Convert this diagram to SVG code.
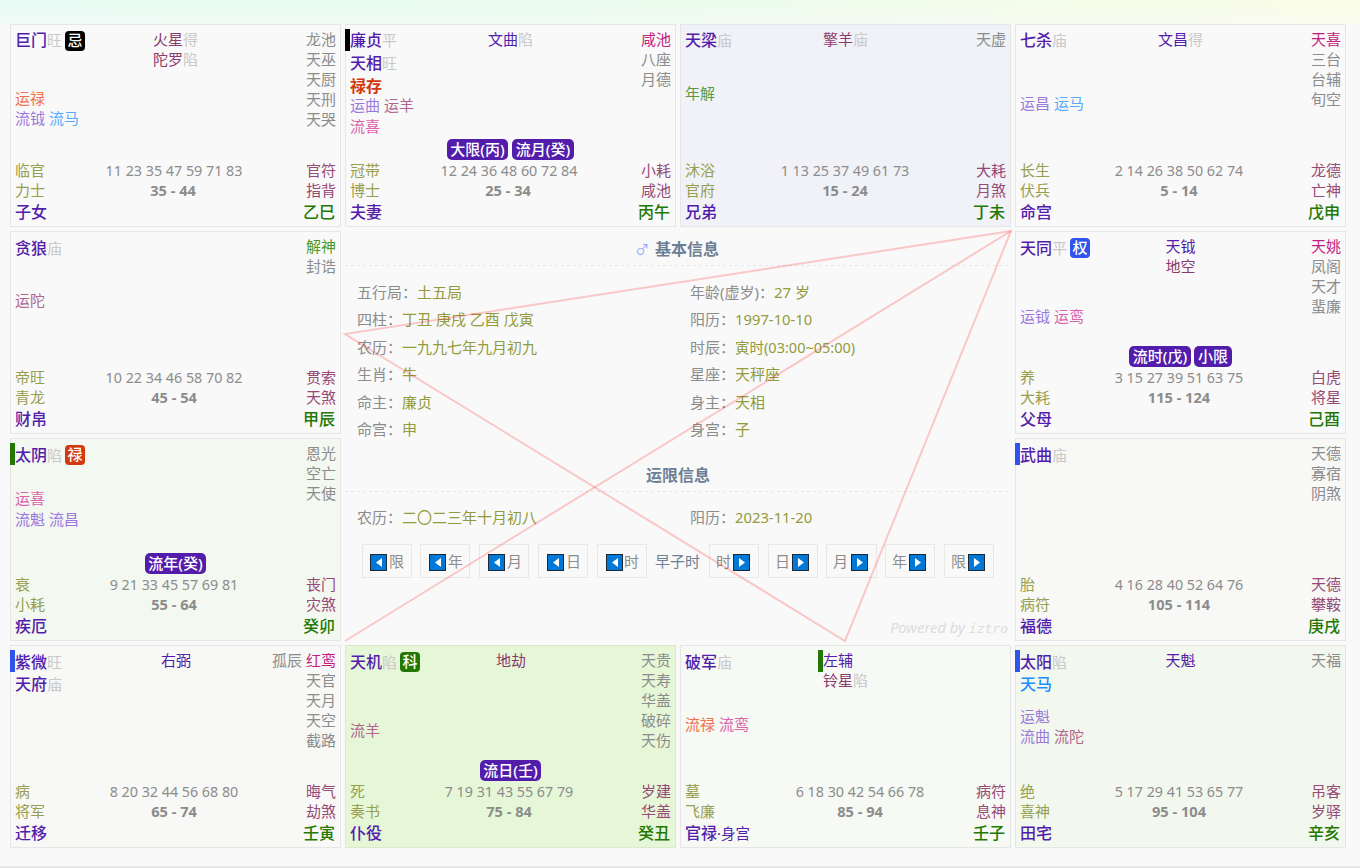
<svg xmlns="http://www.w3.org/2000/svg" width="1360" height="868" viewBox="0 0 1360 868">
<style>
text{font-family:"Noto Sans","Noto Sans CJK SC",sans-serif;font-size:15px;fill:#8c8c8c}
.cell{stroke:#e6e6e6;stroke-width:1;fill:#f9f9f9}
.s{font-size:16px;font-weight:500;fill:#531dab}
.n{fill:#c9c9c9;font-size:15px;font-weight:400}
.v{fill:#8a3a6c}
.p{fill:#531dab}
.mz{fill:#c41d7f}
.h{fill:#979f4f}
.r{fill:#964a76}
.a{font-size:14.3px;text-anchor:middle;fill:#8c8c8c}
.d{font-size:14.6px;font-weight:700;text-anchor:middle;fill:#8c8c8c}
.z{font-size:16px;font-weight:500;fill:#531dab}
.gz{font-size:16px;font-weight:500;fill:#237804;text-anchor:end}
.e{text-anchor:end}
.yl{fill:#f0714f}.yp{fill:#9b79dc}.yb{fill:#55aaff}.yr{fill:#b0668f}.ym{fill:#dc62ac}
.tag{fill:#531dab}
.tt{fill:#fff;font-size:15px;font-weight:500;text-anchor:middle}
.bd{fill:#fff;font-size:15px;font-weight:500;text-anchor:middle}
.ttl{font-size:16px;font-weight:700;fill:#6d7f94;text-anchor:middle}
.val{fill:#939b3b}
.btn{fill:#f9f9f9;stroke:#e8e8e8}
.ico{fill:#0078d7;stroke:#1c2a38;stroke-width:1}
.cn{fill:none;stroke:#ff0000;stroke-opacity:.2;stroke-width:2}
</style>
<defs>
<linearGradient id="tg" x1="0" x2="1" y1="0" y2="0"><stop offset="0" stop-color="#e6fbf3"/><stop offset=".5" stop-color="#eafcec"/><stop offset="1" stop-color="#fbfde6"/></linearGradient>
<linearGradient id="fade" x1="0" x2="0" y1="0" y2="1"><stop offset="0" stop-color="#f9f9f9" stop-opacity=".1"/><stop offset="1" stop-color="#f9f9f9" stop-opacity=".5"/></linearGradient>
</defs>
<rect width="1360" height="868" fill="#f9f9f9"/>
<rect width="1360" height="24" fill="url(#tg)"/>
<rect y="5" width="1360" height="19" fill="url(#fade)"/>
<rect y="866" width="1360" height="2" fill="#e6e6e6"/>

<g id="cell-zinv">
<rect class="cell" x="10.5" y="24.5" width="330" height="202"/>
<text x="15" y="46" class="s">巨门<tspan class="n">旺</tspan></text>
<rect x="65" y="31" width="20" height="20" rx="4" fill="#000"/><text x="75" y="46" class="bd">忌</text>
<text x="153" y="45" class="v">火星<tspan class="n">得</tspan></text>
<text x="153" y="65" class="v">陀罗<tspan class="n">陷</tspan></text>
<text x="336" y="45" class="e">龙池</text><text x="336" y="65" class="e">天巫</text><text x="336" y="85" class="e">天厨</text><text x="336" y="105" class="e">天刑</text><text x="336" y="125" class="e">天哭</text>
<text x="15" y="104" class="yl">运禄</text>
<text x="15" y="124" class="yp">流钺 <tspan class="yb">流马</tspan></text>
<text x="15" y="176" class="h">临官</text><text x="15" y="196" class="h">力士</text><text x="15" y="218" class="z">子女</text>
<text x="174" y="176" class="a">11 23 35 47 59 71 83</text><text x="173" y="196" class="d">35 - 44</text>
<text x="336" y="176" class="r e">官符</text><text x="336" y="196" class="r e">指背</text><text x="335" y="218" class="gz">乙巳</text>
</g>

<g id="cell-fuqi">
<rect class="cell" x="345.5" y="24.5" width="330" height="202"/>
<rect x="345" y="29" width="5" height="22" fill="#000"/>
<text x="350" y="46" class="s">廉贞<tspan class="n">平</tspan></text>
<text x="350" y="69" class="s">天相<tspan class="n">旺</tspan></text>
<text x="350" y="92" class="s" style="fill:#d4380d;font-weight:700">禄存</text>
<text x="350" y="111" class="yp">运曲 <tspan class="yr">运羊</tspan></text>
<text x="350" y="132" class="ym">流喜</text>
<text x="488" y="45" class="p">文曲<tspan class="n">陷</tspan></text>
<text x="671" y="45" class="mz e">咸池</text><text x="671" y="65" class="e">八座</text><text x="671" y="85" class="e">月德</text>
<rect x="447" y="139" width="61" height="21" rx="5" class="tag"/><text x="477.500" y="155" class="tt">大限(丙)</text>
<rect x="512" y="139" width="62" height="21" rx="5" class="tag"/><text x="543" y="155" class="tt">流月(癸)</text>
<text x="350" y="176" class="h">冠带</text><text x="350" y="196" class="h">博士</text><text x="350" y="218" class="z">夫妻</text>
<text x="509" y="176" class="a">12 24 36 48 60 72 84</text><text x="508" y="196" class="d">25 - 34</text>
<text x="671" y="176" class="r e">小耗</text><text x="671" y="196" class="r e">咸池</text><text x="670" y="218" class="gz">丙午</text>
</g>

<g id="cell-xiongdi">
<rect class="cell" x="680.5" y="24.5" width="330" height="202" style="fill:#f0f2f7"/>
<text x="685" y="46" class="s">天梁<tspan class="n">庙</tspan></text>
<text x="823" y="45" class="v">擎羊<tspan class="n">庙</tspan></text>
<text x="1006" y="45" class="e">天虚</text>
<text x="685" y="99" style="fill:#5a9a3c">年解</text>
<text x="685" y="176" class="h">沐浴</text><text x="685" y="196" class="h">官府</text><text x="685" y="218" class="z">兄弟</text>
<text x="845" y="176" class="a">1 13 25 37 49 61 73</text><text x="845" y="196" class="d">15 - 24</text>
<text x="1006" y="176" class="r e">大耗</text><text x="1006" y="196" class="r e">月煞</text><text x="1005" y="218" class="gz">丁未</text>
</g>

<g id="cell-minggong">
<rect class="cell" x="1015.500" y="24.500" width="330" height="202"/>
<text x="1020" y="46" class="s">七杀<tspan class="n">庙</tspan></text>
<text x="1158" y="45" class="p">文昌<tspan class="n">得</tspan></text>
<text x="1341" y="45" class="mz e">天喜</text><text x="1341" y="65" class="e">三台</text><text x="1341" y="85" class="e">台辅</text><text x="1341" y="105" class="e">旬空</text>
<text x="1020" y="109" class="yp">运昌 <tspan class="yb">运马</tspan></text>
<text x="1020" y="176" class="h">长生</text><text x="1020" y="196" class="h">伏兵</text><text x="1020" y="218" class="z">命宫</text>
<text x="1179" y="176" class="a">2 14 26 38 50 62 74</text><text x="1179" y="196" class="d">5 - 14</text>
<text x="1341" y="176" class="r e">龙德</text><text x="1341" y="196" class="r e">亡神</text><text x="1340" y="218" class="gz">戊申</text>
</g>

<g id="cell-caibo">
<rect class="cell" x="10.5" y="231.5" width="330" height="202"/>
<text x="15" y="254" class="s">贪狼<tspan class="n">庙</tspan></text>
<text x="336" y="252" class="e" style="fill:#4a9a20">解神</text><text x="336" y="272" class="e">封诰</text>
<text x="15" y="306" class="yr">运陀</text>
<text x="15" y="383" class="h">帝旺</text><text x="15" y="403" class="h">青龙</text><text x="15" y="425" class="z">财帛</text>
<text x="174" y="383" class="a">10 22 34 46 58 70 82</text><text x="174" y="403" class="d">45 - 54</text>
<text x="336" y="383" class="r e">贯索</text><text x="336" y="403" class="r e">天煞</text><text x="335" y="425" class="gz">甲辰</text>
</g>

<g id="cell-fumu">
<rect class="cell" x="1015.500" y="231.500" width="330" height="202"/>
<text x="1020" y="254" class="s">天同<tspan class="n">平</tspan></text>
<rect x="1070" y="238" width="20" height="20" rx="4" fill="#2f54eb"/><text x="1080" y="253" class="bd">权</text>
<text x="1165.500" y="252" class="p">天钺</text><text x="1165.500" y="272" class="v">地空</text>
<text x="1341" y="252" class="mz e">天姚</text><text x="1341" y="272" class="e">凤阁</text><text x="1341" y="292" class="e">天才</text><text x="1341" y="312" class="e">蜚廉</text>
<text x="1020" y="322" class="yp">运钺 <tspan class="ym">运鸾</tspan></text>
<rect x="1129" y="346" width="62" height="21" rx="5" class="tag"/><text x="1160" y="362" class="tt">流时(戊)</text>
<rect x="1194" y="346" width="38" height="21" rx="5" class="tag"/><text x="1213" y="362" class="tt">小限</text>
<text x="1020" y="383" class="h">养</text><text x="1020" y="403" class="h">大耗</text><text x="1020" y="425" class="z">父母</text>
<text x="1179" y="383" class="a">3 15 27 39 51 63 75</text><text x="1179" y="403" class="d">115 - 124</text>
<text x="1341" y="383" class="r e">白虎</text><text x="1341" y="403" class="r e">将星</text><text x="1340" y="425" class="gz">己酉</text>
</g>

<g id="cell-jie">
<rect class="cell" x="10.5" y="438.5" width="330" height="202" style="fill:#f3f8f0"/>
<rect x="10" y="443" width="5" height="22" fill="#237804"/>
<text x="15" y="461" class="s">太阴<tspan class="n">陷</tspan></text>
<rect x="65" y="445" width="20" height="20" rx="4" fill="#d4380d"/><text x="75" y="460" class="bd">禄</text>
<text x="336" y="459" class="e">恩光</text><text x="336" y="479" class="e">空亡</text><text x="336" y="499" class="e">天使</text>
<text x="15" y="504" class="ym">运喜</text>
<text x="15" y="525" class="yp">流魁 流昌</text>
<rect x="145" y="553" width="61" height="21" rx="5" class="tag"/><text x="175.500" y="569" class="tt">流年(癸)</text>
<text x="15" y="590" class="h">衰</text><text x="15" y="610" class="h">小耗</text><text x="15" y="632" class="z">疾厄</text>
<text x="174" y="590" class="a">9 21 33 45 57 69 81</text><text x="174" y="610" class="d">55 - 64</text>
<text x="336" y="590" class="r e">丧门</text><text x="336" y="610" class="r e">灾煞</text><text x="335" y="632" class="gz">癸卯</text>
</g>

<g id="cell-fude">
<rect class="cell" x="1015.500" y="438.500" width="330" height="202" style="fill:#f8f8f7"/>
<rect x="1015" y="443" width="5" height="22" fill="#2f54eb"/>
<text x="1020" y="461" class="s">武曲<tspan class="n">庙</tspan></text>
<text x="1341" y="459" class="e">天德</text><text x="1341" y="479" class="e">寡宿</text><text x="1341" y="499" class="e">阴煞</text>
<text x="1020" y="590" class="h">胎</text><text x="1020" y="610" class="h">病符</text><text x="1020" y="632" class="z">福德</text>
<text x="1179" y="590" class="a">4 16 28 40 52 64 76</text><text x="1179" y="610" class="d">105 - 114</text>
<text x="1341" y="590" class="r e">天德</text><text x="1341" y="610" class="r e">攀鞍</text><text x="1340" y="632" class="gz">庚戌</text>
</g>

<g id="cell-qianyi">
<rect class="cell" x="10.5" y="645.5" width="330" height="202" style="fill:#f8f8f6"/>
<rect x="10" y="650" width="5" height="22" fill="#2f54eb"/>
<text x="15" y="668" class="s">紫微<tspan class="n">旺</tspan></text>
<text x="15" y="690" class="s">天府<tspan class="n">庙</tspan></text>
<text x="161" y="666" class="p">右弼</text>
<text x="336" y="666" class="e">孤辰 <tspan class="mz">红鸾</tspan></text><text x="336" y="686" class="e">天官</text><text x="336" y="706" class="e">天月</text><text x="336" y="726" class="e">天空</text><text x="336" y="746" class="e">截路</text>
<text x="15" y="797" class="h">病</text><text x="15" y="817" class="h">将军</text><text x="15" y="839" class="z">迁移</text>
<text x="174" y="797" class="a">8 20 32 44 56 68 80</text><text x="174" y="817" class="d">65 - 74</text>
<text x="336" y="797" class="r e">晦气</text><text x="336" y="817" class="r e">劫煞</text><text x="335" y="839" class="gz">壬寅</text>
</g>

<g id="cell-puyi">
<rect class="cell" x="345.5" y="645.5" width="330" height="202" style="fill:#e6f7d8;stroke:#dbe9d0"/>
<text x="350" y="668" class="s">天机<tspan class="n">陷</tspan></text>
<rect x="400" y="652" width="20" height="20" rx="4" fill="#237804"/><text x="410" y="667" class="bd">科</text>
<text x="496" y="666" class="v">地劫</text>
<text x="671" y="666" class="e">天贵</text><text x="671" y="686" class="e">天寿</text><text x="671" y="706" class="e">华盖</text><text x="671" y="726" class="e">破碎</text><text x="671" y="746" class="e">天伤</text>
<text x="350" y="736" class="yr">流羊</text>
<rect x="480" y="760" width="61" height="21" rx="5" class="tag"/><text x="510.500" y="776" class="tt">流日(壬)</text>
<text x="350" y="797" class="h">死</text><text x="350" y="817" class="h">奏书</text><text x="350" y="839" class="z">仆役</text>
<text x="509" y="797" class="a">7 19 31 43 55 67 79</text><text x="509" y="817" class="d">75 - 84</text>
<text x="671" y="797" class="r e">岁建</text><text x="671" y="817" class="r e">华盖</text><text x="670" y="839" class="gz">癸丑</text>
</g>

<g id="cell-guanlu">
<rect class="cell" x="680.5" y="645.5" width="330" height="202" style="fill:#f6f9f4"/>
<text x="685" y="668" class="s">破军<tspan class="n">庙</tspan></text>
<rect x="818" y="650" width="5" height="22" fill="#237804"/>
<text x="823" y="666" class="p">左辅</text>
<text x="823" y="686" class="v">铃星<tspan class="n">陷</tspan></text>
<text x="685" y="730" class="yl">流禄 <tspan class="ym">流鸾</tspan></text>
<text x="685" y="797" class="h">墓</text><text x="685" y="817" class="h">飞廉</text><text x="685" y="839" class="z">官禄<tspan style="font-size:14.500px;font-weight:400">·身宫</tspan></text>
<text x="860" y="797" class="a">6 18 30 42 54 66 78</text><text x="860" y="817" class="d">85 - 94</text>
<text x="1006" y="797" class="r e">病符</text><text x="1006" y="817" class="r e">息神</text><text x="1005" y="839" class="gz">壬子</text>
</g>

<g id="cell-tianzhai">
<rect class="cell" x="1015.500" y="645.500" width="330" height="202" style="fill:#f3f8ef"/>
<rect x="1015" y="650" width="5" height="22" fill="#2f54eb"/>
<text x="1020" y="668" class="s">太阳<tspan class="n">陷</tspan></text>
<text x="1020" y="690" class="s" style="fill:#1890ff">天马</text>
<text x="1165.500" y="666" class="p">天魁</text>
<text x="1341" y="666" class="e">天福</text>
<text x="1020" y="722" class="yp">运魁</text>
<text x="1020" y="742" class="yp">流曲 <tspan class="yr">流陀</tspan></text>
<text x="1020" y="797" class="h">绝</text><text x="1020" y="817" class="h">喜神</text><text x="1020" y="839" class="z">田宅</text>
<text x="1179" y="797" class="a">5 17 29 41 53 65 77</text><text x="1179" y="817" class="d">95 - 104</text>
<text x="1341" y="797" class="r e">吊客</text><text x="1341" y="817" class="r e">岁驿</text><text x="1340" y="839" class="gz">辛亥</text>
</g>

<g id="center">
<text x="687" y="255" class="ttl">基本信息</text>
<text x="642" y="258" style="fill:#8fa6ff;font-size:25px;text-anchor:middle;font-family:'Liberation Sans','DejaVu Sans',sans-serif">♂</text>
<line x1="345" y1="265.500" x2="1011" y2="265.500" stroke="#e6e8e6" stroke-dasharray="3 3"/>
<text x="357" y="298">五行局：<tspan class="val">土五局</tspan></text>
<text x="357" y="325">四柱：<tspan class="val">丁丑 庚戌 乙酉 戊寅</tspan></text>
<text x="357" y="353">农历：<tspan class="val">一九九七年九月初九</tspan></text>
<text x="357" y="380">生肖：<tspan class="val">牛</tspan></text>
<text x="357" y="408">命主：<tspan class="val">廉贞</tspan></text>
<text x="357" y="435">命宫：<tspan class="val">申</tspan></text>
<text x="690" y="298">年龄(虚岁)：<tspan class="val">27 岁</tspan></text>
<text x="690" y="325">阳历：<tspan class="val" style="font-size:14.800px">1997-10-10</tspan></text>
<text x="690" y="353">时辰：<tspan class="val" style="font-size:14.500px">寅时(03:00~05:00)</tspan></text>
<text x="690" y="380">星座：<tspan class="val">天秤座</tspan></text>
<text x="690" y="408">身主：<tspan class="val">天相</tspan></text>
<text x="690" y="435">身宫：<tspan class="val">子</tspan></text>
<text x="678" y="481" class="ttl">运限信息</text>
<line x1="345" y1="491.500" x2="1011" y2="491.500" stroke="#e6e8e6" stroke-dasharray="3 3"/>
<text x="357" y="523">农历：<tspan class="val">二〇二三年十月初八</tspan></text>
<text x="690" y="523">阳历：<tspan class="val" style="font-size:14.800px">2023-11-20</tspan></text>
<g id="btn-prev">
<rect class="btn" x="362.500" y="544.500" width="49" height="33"/><rect class="ico" x="370.500" y="554.500" width="16" height="16"/><path d="M382 558v9l-6-4.500z" fill="#fff"/><text x="389" y="567">限</text>
<rect class="btn" x="420.500" y="544.500" width="49" height="33"/><rect class="ico" x="429.500" y="554.500" width="16" height="16"/><path d="M441 558v9l-6-4.500z" fill="#fff"/><text x="448" y="567">年</text>
<rect class="btn" x="479.500" y="544.500" width="49" height="33"/><rect class="ico" x="488.500" y="554.500" width="16" height="16"/><path d="M500 558v9l-6-4.500z" fill="#fff"/><text x="507" y="567">月</text>
<rect class="btn" x="538.500" y="544.500" width="49" height="33"/><rect class="ico" x="547.500" y="554.500" width="16" height="16"/><path d="M559 558v9l-6-4.500z" fill="#fff"/><text x="566" y="567">日</text>
<rect class="btn" x="597.500" y="544.500" width="49" height="33"/><rect class="ico" x="606.500" y="554.500" width="16" height="16"/><path d="M618 558v9l-6-4.500z" fill="#fff"/><text x="624" y="567">时</text>
</g>
<text x="655" y="567" style="fill:#6d7f94">早子时</text>
<g id="btn-next">
<rect class="btn" x="709.500" y="544.500" width="49" height="33"/><rect class="ico" x="733.500" y="554.500" width="16" height="16"/><path d="M739 558v9l6-4.500z" fill="#fff"/><text x="716" y="567">时</text>
<rect class="btn" x="768.500" y="544.500" width="49" height="33"/><rect class="ico" x="792.500" y="554.500" width="16" height="16"/><path d="M798 558v9l6-4.500z" fill="#fff"/><text x="775" y="567">日</text>
<rect class="btn" x="826.500" y="544.500" width="50" height="33"/><rect class="ico" x="851.500" y="554.500" width="16" height="16"/><path d="M857 558v9l6-4.500z" fill="#fff"/><text x="833" y="567">月</text>
<rect class="btn" x="885.500" y="544.500" width="49" height="33"/><rect class="ico" x="909.500" y="554.500" width="16" height="16"/><path d="M915 558v9l6-4.500z" fill="#fff"/><text x="892" y="567">年</text>
<rect class="btn" x="944.500" y="544.500" width="49" height="33"/><rect class="ico" x="968.500" y="554.500" width="16" height="16"/><path d="M974 558v9l6-4.500z" fill="#fff"/><text x="951" y="567">限</text>
</g>
<text x="1008" y="633" text-anchor="end" style="fill:#dcdcdc;font-size:14.800px;font-style:italic">Powered by <tspan style="font-family:'DejaVu Sans Mono',monospace;font-size:13px">iztro</tspan></text>
</g>

<g id="connectors">
<path class="cn" d="M1011 231L345 334L845 641Z"/>
<line class="cn" x1="1011" y1="231" x2="345" y2="641"/>
</g>
</svg>
